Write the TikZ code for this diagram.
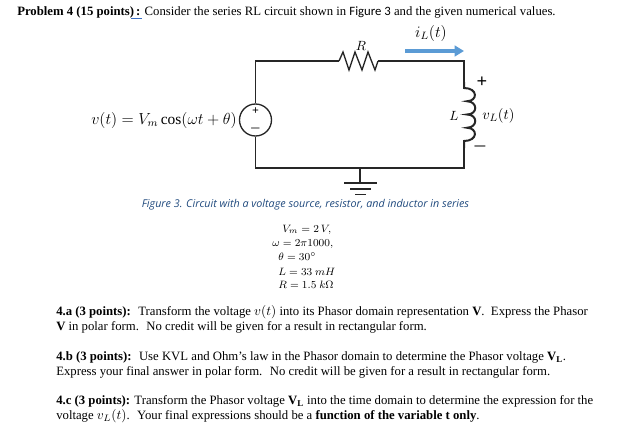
\documentclass[tikz,border=0pt]{standalone}
\usepackage{amsmath}
\usepackage{amssymb}
\usepackage{fontspec}
\setmainfont{Liberation Serif}
\newfontfamily\capfont{Open Sans}
\newfontfamily\figfont{Carlito}
\usetikzlibrary{arrows.meta}
\definecolor{capblue}{HTML}{1F497D}
\definecolor{arrowblue}{HTML}{5B9BD5}
\definecolor{linkblue}{HTML}{3B6FC4}
\tikzset{
  line/.style={inner sep=0pt,anchor=base west,font=\fontsize{9.55}{11}\selectfont},
  val/.style={inner sep=0pt,anchor=base west,font=\fontsize{8.4}{10}\selectfont},
  lab/.style={inner sep=0pt,font=\fontsize{10}{12}\selectfont},
  wire/.style={line width=1pt,black!85}
}
\begin{document}
\begin{tikzpicture}[x=0.75pt,y=-0.75pt]
\useasboundingbox (0,0) rectangle (629,432);

\node[line] (head) at (17,15.5) {\textbf{Problem 4 (15 points)\,:} Consider the series RL circuit shown in {\figfont Figure 3} and the given numerical values.};
\coordinate (ula) at (131,18);
\coordinate (ulb) at (142,18);
\draw[linkblue,line width=.5pt] (ula) -- (ulb);

% circuit
\coordinate (TL) at (255.5,61);
\coordinate (TR) at (464,61);
\coordinate (BL) at (255.5,168);
\coordinate (BR) at (464,168);
\coordinate (Ra) at (339,61);
\coordinate (Rb) at (378,61);
\coordinate (La) at (464,82);
\coordinate (Lb) at (464,148);
\coordinate (Ca) at (464,88);
\coordinate (Cb) at (464,141);
\coordinate (G) at (360,168);
\coordinate (Ga) at (360,183);
\coordinate (G1a) at (344,183);
\coordinate (G1b) at (377,183);
\coordinate (G2a) at (350,189);
\coordinate (G2b) at (371,189);
\coordinate (G3a) at (355,194.5);
\coordinate (G3b) at (366,194.5);
\coordinate (Ia) at (405,51);
\coordinate (Ib) at (464,51);
\node[draw,circle,wire,minimum size=24pt,inner sep=0pt] (Vs) at (255.5,120) {};
\node[lab,font=\fontsize{9}{10}\selectfont\bfseries] (Vp) at (255.5,111.5) {+};
\node[lab,font=\fontsize{9}{10}\selectfont\bfseries] (Vm) at (255.5,128.5) {$\boldsymbol{-}$};

\draw[wire] (Vs) -- (TL) -- (Ra);
\draw[wire] (Rb) -- (TR) -- (La);
\draw[wire] (Vs) -- (BL) -- (BR) -- (Lb);
\draw[wire] (Ra) -- (343,52) -- (349,70) -- (355,52) -- (362,70) -- (368,52) -- (375,70) -- (Rb);
\draw[wire,line width=1.5pt] (La) -- (Ca)
  .. controls (478,88) and (478,101) .. (467,101.25)
  .. controls (478,101.5) and (478,114.5) .. (467,114.5)
  .. controls (478,114.5) and (478,127.5) .. (467,127.75)
  .. controls (478,128) and (478,141) .. (Cb) -- (Lb);
\draw[wire] (G) -- (Ga);
\draw[wire] (G1a) -- (G1b);
\draw[wire] (G2a) -- (G2b);
\draw[wire] (G3a) -- (G3b);
\draw[arrowblue,line width=2.4pt,-{Triangle[length=7pt,width=8pt]}] (Ia) -- (Ib);

\node[lab,font=\fontsize{11.6}{14}\selectfont] (vsrc) at (164,120) {$v(t)=V_m\cos(\omega t+\theta)$};
\node[lab] (R) at (361,46) {$R$};
\node[lab] (L) at (454,116) {$L$};
\node[lab,font=\fontsize{11.5}{13}\selectfont] (iL) at (431,33) {$i_L(t)$};
\node[lab,font=\fontsize{11}{13}\selectfont] (vL) at (498.5,116) {$v_L(t)$};
\node[lab,font=\fontsize{14}{16}\selectfont\bfseries] (plus) at (482,82.5) {+};
\node[lab,font=\fontsize{12}{14}\selectfont\bfseries] (minus) at (480,146) {$\boldsymbol{-}$};

\node[lab,font=\capfont\itshape\fontsize{8.07}{10}\selectfont,text=capblue] (cap) at (305.5,204.5) {Figure 3. Circuit with a voltage source, resistor, and inductor in series};

% values
\node[val] (v1) at (282,232.5) {$V_m=2\,V,$};
\node[val] (v2) at (272,246.5) {$\omega=2\pi1000,$};
\node[val] (v3) at (278,260.5) {$\theta=30^{\circ}$};
\node[val] (v4) at (278,275) {$L=33\ mH$};
\node[val] (v5) at (278,288.5) {$R=1.5\ k\Omega$};

% questions
\node[line] (a1) at (56,315) {\textbf{4.a (3 points):} \ Transform the voltage $v(t)$ into its Phasor domain representation \textbf{V}. \ Express the Phasor};
\node[line] (a2) at (56,330) {\textbf{V} in polar form. \ No credit will be given for a result in rectangular form.};
\node[line] (b1) at (56,360) {\textbf{4.b (3 points):} \ Use KVL and Ohm’s law in the Phasor domain to determine the Phasor voltage $\mathbf{V_L}$.};
\node[line] (b2) at (56,375) {Express your final answer in polar form. \ No credit will be given for a result in rectangular form.};
\node[line] (c1) at (56,404) {\textbf{4.c (3 points):} Transform the Phasor voltage $\mathbf{V_L}$ into the time domain to determine the expression for the};
\node[line] (c2) at (56,419) {voltage $v_L(t)$. \ Your final expressions should be a \textbf{function of the variable t only}.};
\end{tikzpicture}
\end{document}
